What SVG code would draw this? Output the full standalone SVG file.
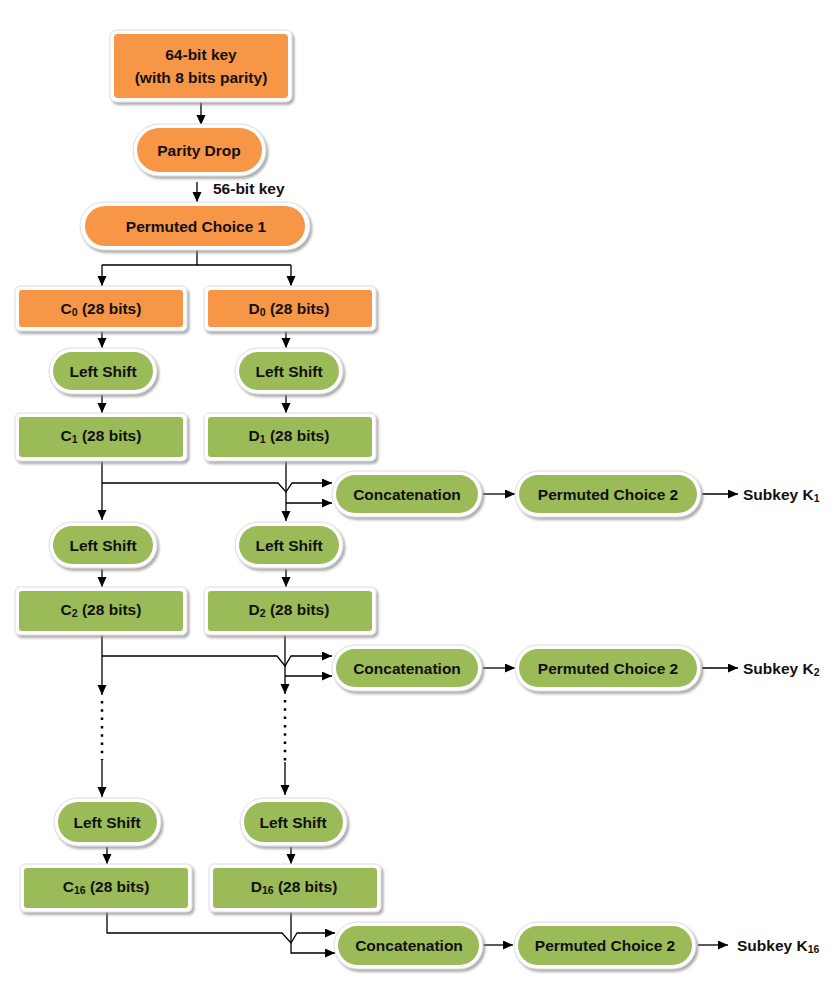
<svg xmlns="http://www.w3.org/2000/svg" width="836" height="992" viewBox="0 0 836 992">
<defs>
<filter id="sh" x="-10%" y="-20%" width="130%" height="150%">
<feDropShadow dx="2" dy="2.5" stdDeviation="1.2" flood-color="#8a8a8a" flood-opacity="0.7"/>
</filter>
<marker id="ah" markerUnits="userSpaceOnUse" markerWidth="11" markerHeight="10" refX="10" refY="4.5" orient="auto">
<path d="M0,0 L10,4.5 L0,9 z" fill="#000"/>
</marker>
<style>
.rim{fill:#fff;stroke:#dcdcdc;stroke-width:1;filter:url(#sh)}
.o{fill:#F79646}
.g{fill:#9BBB59}
text{font-family:"Liberation Sans",Arial,sans-serif;font-weight:bold;font-size:15.5px;fill:#111;text-anchor:middle;dominant-baseline:central}
.lbl{text-anchor:start}
.c{fill:none;stroke:#000;stroke-width:1.3}
.a{marker-end:url(#ah)}
.dot{fill:none;stroke:#000;stroke-width:2.5;stroke-dasharray:2.5 5.8}
</style>
</defs>
<rect width="836" height="992" fill="#fff"/>

<g id="connectors">
<path class="c a" d="M201,102 V125"/>
<path class="c a" d="M197,182 V202"/>
<path class="c" d="M197,250 V265 M102,265 H291"/>
<path class="c a" d="M102,265 V286"/>
<path class="c a" d="M291,265 V286"/>
<path class="c a" d="M102,329 V348"/>
<path class="c a" d="M286,329 V348"/>
<path class="c a" d="M102,395 V413"/>
<path class="c a" d="M286,395 V413"/>
<path class="c a" d="M102,461 V520"/>
<path class="c a" d="M102,483 H278 L286,492 L292,483 H332"/>
<path class="c a" d="M286,461 V521"/>
<path class="c a" d="M286,503 H332"/>
<path class="c a" d="M483,494 H515"/>
<path class="c a" d="M702,494 H738"/>
<path class="c a" d="M102,569 V587"/>
<path class="c a" d="M286,569 V587"/>
<path class="c a" d="M102,635 V695"/>
<path class="c a" d="M102,656 H277 L285,666 L291,656 H332"/>
<path class="c a" d="M285,635 V694"/>
<path class="c a" d="M285,676 H332"/>
<path class="c a" d="M483,668 H515"/>
<path class="c a" d="M702,668 H738"/>
<path class="dot" d="M102,701 V760"/>
<path class="c a" d="M102,760 V797"/>
<path class="dot" d="M285,700 V762"/>
<path class="c a" d="M285,762 V795"/>
<path class="c a" d="M107,847 V864"/>
<path class="c a" d="M291,847 V864"/>
<path class="c a" d="M107,912 V933 H282 L291,943 L297,933 H335"/>
<path class="c a" d="M291,912 V953 H335"/>
<path class="c a" d="M483,945 H513"/>
<path class="c a" d="M698,945 H728"/>
</g>

<g id="key64">
<rect class="rim" x="110" y="30" width="182" height="72" rx="6"/>
<rect class="o" x="114" y="34" width="174" height="64" rx="4"/>
<text x="201" y="54">64-bit key</text>
<text x="201" y="77">(with 8 bits parity)</text>
</g>
<g id="parity">
<rect class="rim" x="133" y="124" width="133" height="52" rx="26"/>
<rect class="o" x="137" y="128" width="125" height="44" rx="22"/>
<text x="199" y="150">Parity Drop</text>
</g>
<text id="lbl56" class="lbl" x="213" y="188">56-bit key</text>
<g id="pc1">
<rect class="rim" x="80" y="202" width="230" height="48" rx="24"/>
<rect class="o" x="85" y="206" width="220" height="40" rx="20"/>
<text x="196" y="226">Permuted Choice 1</text>
</g>

<g id="c0">
<rect class="rim" x="15" y="286" width="172" height="45" rx="5"/>
<rect class="o" x="19" y="290" width="164" height="37" rx="3"/>
<text x="101" y="308">C<tspan font-size="10.5" dy="4">0</tspan><tspan dy="-4"> (28 bits)</tspan></text>
</g>
<g id="d0">
<rect class="rim" x="204" y="286" width="172" height="45" rx="5"/>
<rect class="o" x="208" y="290" width="164" height="37" rx="3"/>
<text x="289" y="308">D<tspan font-size="10.5" dy="4">0</tspan><tspan dy="-4"> (28 bits)</tspan></text>
</g>
<g id="ls_c1">
<rect class="rim" x="49" y="348" width="108" height="46" rx="23"/>
<rect class="g" x="53" y="352" width="100" height="38" rx="19"/>
<text x="103" y="371">Left Shift</text>
</g>
<g id="ls_d1">
<rect class="rim" x="235" y="348" width="108" height="46" rx="23"/>
<rect class="g" x="239" y="352" width="100" height="38" rx="19"/>
<text x="289" y="371">Left Shift</text>
</g>
<g id="c1">
<rect class="rim" x="15" y="413" width="172" height="48" rx="5"/>
<rect class="g" x="19" y="417" width="164" height="40" rx="3"/>
<text x="101" y="435">C<tspan font-size="10.5" dy="4">1</tspan><tspan dy="-4"> (28 bits)</tspan></text>
</g>
<g id="d1">
<rect class="rim" x="204" y="413" width="172" height="48" rx="5"/>
<rect class="g" x="208" y="417" width="164" height="40" rx="3"/>
<text x="289" y="435">D<tspan font-size="10.5" dy="4">1</tspan><tspan dy="-4"> (28 bits)</tspan></text>
</g>
<g id="concat1">
<rect class="rim" x="332" y="471" width="150" height="46" rx="23"/>
<rect class="g" x="336" y="475" width="142" height="38" rx="19"/>
<text x="407" y="494">Concatenation</text>
</g>
<g id="pc2_1">
<rect class="rim" x="515" y="471" width="186" height="46" rx="23"/>
<rect class="g" x="519" y="475" width="178" height="38" rx="19"/>
<text x="608" y="494">Permuted Choice 2</text>
</g>
<text id="k1" class="lbl" x="743" y="494">Subkey K<tspan font-size="10.5" dy="4">1</tspan></text>

<g id="ls_c2">
<rect class="rim" x="49" y="522" width="108" height="46" rx="23"/>
<rect class="g" x="53" y="526" width="100" height="38" rx="19"/>
<text x="103" y="545">Left Shift</text>
</g>
<g id="ls_d2">
<rect class="rim" x="235" y="522" width="108" height="46" rx="23"/>
<rect class="g" x="239" y="526" width="100" height="38" rx="19"/>
<text x="289" y="545">Left Shift</text>
</g>
<g id="c2">
<rect class="rim" x="15" y="587" width="172" height="48" rx="5"/>
<rect class="g" x="19" y="591" width="164" height="40" rx="3"/>
<text x="101" y="609">C<tspan font-size="10.5" dy="4">2</tspan><tspan dy="-4"> (28 bits)</tspan></text>
</g>
<g id="d2">
<rect class="rim" x="204" y="587" width="172" height="48" rx="5"/>
<rect class="g" x="208" y="591" width="164" height="40" rx="3"/>
<text x="289" y="609">D<tspan font-size="10.5" dy="4">2</tspan><tspan dy="-4"> (28 bits)</tspan></text>
</g>
<g id="concat2">
<rect class="rim" x="332" y="645" width="150" height="46" rx="23"/>
<rect class="g" x="336" y="649" width="142" height="38" rx="19"/>
<text x="407" y="668">Concatenation</text>
</g>
<g id="pc2_2">
<rect class="rim" x="515" y="645" width="186" height="46" rx="23"/>
<rect class="g" x="519" y="649" width="178" height="38" rx="19"/>
<text x="608" y="668">Permuted Choice 2</text>
</g>
<text id="k2" class="lbl" x="743" y="668">Subkey K<tspan font-size="10.5" dy="4">2</tspan></text>

<g id="ls_c16">
<rect class="rim" x="54" y="798" width="107" height="48" rx="24"/>
<rect class="g" x="58" y="802" width="99" height="40" rx="20"/>
<text x="107" y="822">Left Shift</text>
</g>
<g id="ls_d16">
<rect class="rim" x="240" y="798" width="107" height="48" rx="24"/>
<rect class="g" x="244" y="802" width="99" height="40" rx="20"/>
<text x="293" y="822">Left Shift</text>
</g>
<g id="c16">
<rect class="rim" x="20" y="864" width="172" height="48" rx="5"/>
<rect class="g" x="24" y="868" width="164" height="40" rx="3"/>
<text x="106" y="886">C<tspan font-size="10.5" dy="4">16</tspan><tspan dy="-4"> (28 bits)</tspan></text>
</g>
<g id="d16">
<rect class="rim" x="209" y="864" width="172" height="48" rx="5"/>
<rect class="g" x="213" y="868" width="164" height="40" rx="3"/>
<text x="294" y="886">D<tspan font-size="10.5" dy="4">16</tspan><tspan dy="-4"> (28 bits)</tspan></text>
</g>
<g id="concat16">
<rect class="rim" x="334" y="922" width="149" height="47" rx="23.5"/>
<rect class="g" x="338" y="926" width="141" height="39" rx="19.5"/>
<text x="409" y="945">Concatenation</text>
</g>
<g id="pc2_16">
<rect class="rim" x="514" y="922" width="182" height="47" rx="23.5"/>
<rect class="g" x="518" y="926" width="174" height="39" rx="19.5"/>
<text x="605" y="945">Permuted Choice 2</text>
</g>
<text id="k16" class="lbl" x="737" y="945">Subkey K<tspan font-size="10.5" dy="4">16</tspan></text>
</svg>
